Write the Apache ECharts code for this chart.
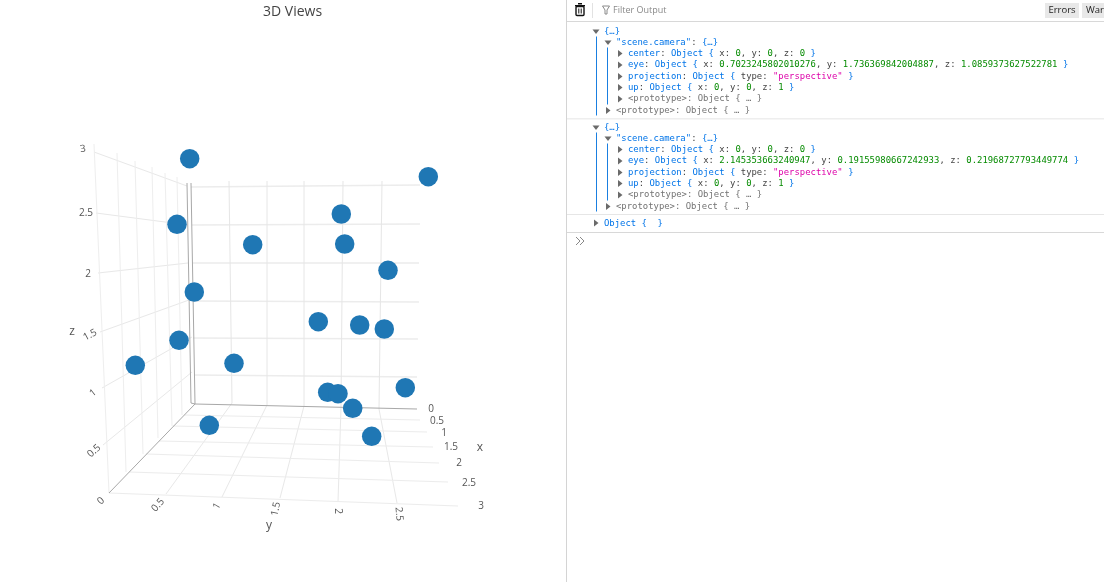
<!DOCTYPE HTML>
<html>
<head>
<meta charset="UTF-8">
<title>3D Views</title>
<style>
html,body{margin:0;padding:0;width:100%;height:100%;overflow:hidden;background:#fff;}
#wrap{width:1104px;height:582px;}
</style>
</head>
<body>
<div id="wrap"></div>
<script src="https://cdn.jsdelivr.net/npm/echarts@6/dist/echarts.min.js"></script>
<script>
// projected positions of the markers
let pointsX = [189.7,428.3,341.3,177,252.7,344.7,388,194.3,318.3,359.7,384.3,179,135.3,234,405.3,327.7,338,352.7,209.3,371.7];
let pointsY = [158.7,176.7,214,224.3,244.7,244,270.3,292,321.7,325,329,340.3,365.3,363.3,387.7,392.3,393.7,408.3,425.3,436.3];

// scene grid, each entry is one line: x1,y1,x2,y2
let backWallZ = [[191,187,420,185],[192,225,420,224],[192,263,419,263],[193,301,419,302],[193,338,418,339],[194,375,417,377]];
let backWallY = [[229,181,232,403],[267,181,267,405],[304,181,304,406],[343,181,341,407],[382,181,379,409]];
let sideWallZ = [[94,152,187,186],[96,213,188,225],[98,273,188,263],[100,332,189,300],[102,388,192,337],[103,445,192,372]];
let sideWallX = [[94,144,109,493],[117,153,126,472],[135,161,143,454],[152,167,158,438],[165,173,172,426],[177,177,182,415]];
let floorY = [[232,403,166,494],[267,405,222,497],[304,406,280,498],[341,407,338,502],[379,409,397,503]];
let floorX = [[184,415,420,420],[173,426,427,432],[159,441,433,447],[146,454,439,463],[129,472,448,482],[109,493,458,506]];
let axisLines = [[187,183,191,403],[191,183,195,404],[191,403,195,404],[195,404,417,409],[195,404,109,493]];

// tick labels: text, x, y, rotation in degrees
let zTicks = [['3',83,149,8],['2.5',86,213,0],['2',88,274,0],['1.5',90,335,28],['1',93,393,38],['0.5',94,451,42]];
let yTicks = [['0',101,501,42],['0.5',158,505,48],['1',217,506,60],['1.5',276,509,78],['2',338,511,-90],['2.5',399,514,-85]];
let xTicks = [['0',431,409,0],['0.5',437,421,0],['1',444,433,0],['1.5',451,447,0],['2',459,463,0],['2.5',469,483,0],['3',481,506,0]];
let axisTitles = [['x',480,448],['y',269,526],['z',72,332]];

// console text
let blue = '#0074e8', green = '#058b00', pink = '#dd00a9', gray = '#737373', dark = '#444';
let groups = [
    {top:31.5, eye:['0.7023245802010276','1.736369842004887','1.0859373627522781']},
    {top:127.5, eye:['2.145353663240947','0.19155980667242933','0.21968727793449774']}
];

function toSegments(list){
    let out = [];
    list.forEach(l=>{
        out.push([l[0],l[1]],[l[2],l[3]],['-','-']);
    });
    return out;
}
function lineSeries(list,color,width){
    return {
        type:'line',
        data:toSegments(list),
        showSymbol:false,
        silent:true,
        animation:false,
        connectNulls:false,
        lineStyle:{color:color,width:width},
        z:1
    };
}
function label(text,x,y,rot,size,color,align){
    return {
        type:'text',
        x:x,
        y:y,
        rotation:(rot||0)*Math.PI/180,
        silent:true,
        style:{
            text:text,
            x:0,
            y:0,
            fill:color||'#555',
            font:(size||10)+'px "Open Sans"',
            textAlign:align||'center',
            textVerticalAlign:'middle'
        }
    };
}

// console rows are monospace, so segments are placed by character count
let charW = 5.37;
function row(x,y,parts){
    let out = [], cx = x;
    parts.forEach(p=>{
        out.push({
            type:'text',
            x:cx,
            y:y,
            silent:true,
            style:{
                text:p[0],
                x:0,
                y:0,
                fill:p[1],
                font:'8.92px "DejaVu Sans Mono"',
                textAlign:'left',
                textVerticalAlign:'middle'
            }
        });
        cx += p[0].length*charW;
    });
    return out;
}
function box(x,y,w,h,color){
    return {type:'rect',silent:true,shape:{x:x,y:y,width:w,height:h},style:{fill:color}};
}
function arrowDown(x,y){
    return {type:'polygon',silent:true,shape:{points:[[x-3.5,y-2],[x+3.5,y-2],[x,y+2.5]]},style:{fill:'#6a6a6a'}};
}
function arrowRight(x,y){
    return {type:'polygon',silent:true,shape:{points:[[x-2,y-3.5],[x+2.5,y],[x-2,y+3.5]]},style:{fill:'#6a6a6a'}};
}

let graphics = [];
[zTicks,yTicks,xTicks].forEach(t=>t.forEach(d=>graphics.push(label(d[0],d[1],d[2],d[3]))));
axisTitles.forEach(d=>graphics.push(label(d[0],d[1],d[2],0,12)));

// console chrome
graphics.push(box(566,0,1,582,'#d4d4d4'));
graphics.push(box(567,21,537,1,'#d8d8d8'));
graphics.push(box(592,3,1,15,'#e2e2e2'));
graphics.push(box(575,5,10,1.5,'#111'), box(578,3,4,1.5,'#111'));
graphics.push({type:'rect',silent:true,shape:{x:576,y:6.5,width:8,height:9,r:1},style:{fill:'#fff',stroke:'#111',lineWidth:1.4}});
graphics.push(box(578.3,8.5,1,5,'#111'), box(580.7,8.5,1,5,'#111'));
graphics.push({type:'polygon',silent:true,shape:{points:[[602.5,6],[609.5,6],[607,10],[607,14],[605,14],[605,10]]},style:{fill:'#fff',stroke:'#8a8a8a',lineWidth:1}});
graphics.push(label('Filter Output',613,10,0,9,'#8a8a8a','left'));
graphics.push(box(1045,3,34,15,'#e8e8e8'), box(1082,3,22,15,'#e8e8e8'));
graphics.push(label('Errors',1062,10,0,9.5,'#222'));
graphics.push(label('Warn',1086,10,0,9.5,'#222','left'));

groups.forEach(g=>{
    let t = g.top;
    let ys = [t,t+11,t+22,t+33.5,t+45,t+56,t+67.5,t+79];
    graphics.push(box(596,t+5,1,79,'#1a7fe0'), box(607,t+16,1,57,'#1a7fe0'));
    graphics.push(arrowDown(596,ys[0]),arrowDown(608,ys[1]));
    [2,3,4,5,6].forEach(i=>graphics.push(arrowRight(620,ys[i])));
    graphics.push(arrowRight(608,ys[7]));
    graphics.push(...row(604,ys[0],[['{…}',blue]]));
    graphics.push(...row(616,ys[1],[['"scene.camera"',blue],[': ',dark],['{…}',blue]]));
    graphics.push(...row(628,ys[2],[['center',blue],[': ',dark],['Object { ',blue],['x: ',dark],['0',green],[', ',dark],['y: ',dark],['0',green],[', ',dark],['z: ',dark],['0',green],[' }',blue]]));
    graphics.push(...row(628,ys[3],[['eye',blue],[': ',dark],['Object { ',blue],['x: ',dark],[g.eye[0],green],[', ',dark],['y: ',dark],[g.eye[1],green],[', ',dark],['z: ',dark],[g.eye[2],green],[' }',blue]]));
    graphics.push(...row(628,ys[4],[['projection',blue],[': ',dark],['Object { ',blue],['type: ',dark],['"perspective"',pink],[' }',blue]]));
    graphics.push(...row(628,ys[5],[['up',blue],[': ',dark],['Object { ',blue],['x: ',dark],['0',green],[', ',dark],['y: ',dark],['0',green],[', ',dark],['z: ',dark],['1',green],[' }',blue]]));
    graphics.push(...row(628,ys[6],[['<prototype>: Object { … }',gray]]));
    graphics.push(...row(616,ys[7],[['<prototype>: Object { … }',gray]]));
});
graphics.push(box(567,118,537,1.5,'#eeeeee'), box(567,214,537,1,'#e6e6e6'), box(567,232,537,1,'#d8d8d8'));
graphics.push(arrowRight(596,223));
graphics.push(...row(604,223.5,[['Object {  }',blue]]));
graphics.push({type:'polyline',silent:true,shape:{points:[[576,237],[580,241],[576,245]]},style:{fill:'none',stroke:'#888',lineWidth:1}});
graphics.push({type:'polyline',silent:true,shape:{points:[[580,237],[584,241],[580,245]]},style:{fill:'none',stroke:'#888',lineWidth:1}});

let wrap = document.getElementById('wrap');
let mycharts = echarts.init(wrap);

let options = {
    animation:false,
    backgroundColor:'#fff',
    title:{
        text:'3D Views',
        left:263,
        top:2,
        padding:[3,0,5,0],
        textStyle:{color:'#444',fontSize:14,fontWeight:'normal',fontFamily:'Open Sans'}
    },
    grid:{left:0,right:0,top:0,bottom:0},
    xAxis:{type:'value',min:0,max:1104,show:false},
    yAxis:{type:'value',min:0,max:582,inverse:true,show:false},
    graphic:graphics,
    series:[
        lineSeries(backWallZ,'#ececec',1.4),
        lineSeries(backWallY,'#e6e6e6',1),
        lineSeries(sideWallZ,'#e8e8e8',1),
        lineSeries(sideWallX,'#eeeeee',1),
        lineSeries(floorY,'#e8e8e8',1),
        lineSeries(floorX,'#ececec',1),
        lineSeries(axisLines,'#a8a8a8',1),
        {
            type:'scatter',
            data:pointsX.map((x,i)=>[x,pointsY[i]]),
            symbolSize:19.5,
            itemStyle:{color:'#1f77b4',opacity:1},
            silent:true,
            z:3
        }
    ]
};
mycharts.setOption(options);
</script>
</body>
</html>
